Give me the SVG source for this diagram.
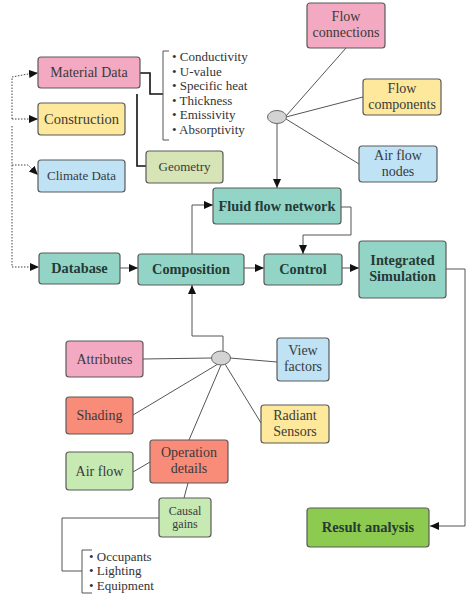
<svg xmlns="http://www.w3.org/2000/svg" width="474" height="594" viewBox="0 0 474 594">
<defs>
<marker id="ah" markerUnits="userSpaceOnUse" markerWidth="10" markerHeight="9" refX="9" refY="4" orient="auto">
<path d="M0,0 L9,4 L0,8 z" fill="#111"/>
</marker>
<style>
.n{stroke:#5a5a5a;stroke-width:1.2}
.t{font-family:"Liberation Serif","Times New Roman",serif;font-size:14px;fill:#3a3a3a;text-anchor:middle}
.b{font-family:"Liberation Serif","Times New Roman",serif;font-size:14.3px;font-weight:bold;fill:#263a36;text-anchor:middle}
.l{font-family:"Liberation Serif","Times New Roman",serif;font-size:13px;fill:#333}
.c{fill:none;stroke:#555;stroke-width:1}
.d{fill:none;stroke:#444;stroke-width:1;stroke-dasharray:1.5,1.5}
.k{fill:none;stroke:#111;stroke-width:1.6}
.pink{fill:#f3a9c1}.yel{fill:#fde89c}.blue{fill:#bfe2f5}.geo{fill:#d6e4b6}.teal{fill:#92d5c6}.sal{fill:#f98b79}.lg{fill:#c7e9b2}.res{fill:#8dca50}
</style>
</defs>
<rect width="474" height="594" fill="#fff"/>
<g id="connectors">
<path class="d" d="M12,119 V77 L28,74 L38,73" marker-end="url(#ah)"/>
<path class="d" d="M12,119 H38" marker-end="url(#ah)"/>
<path class="d" d="M12,126 V267 H39" marker-end="url(#ah)"/>
<path class="d" d="M12,165 H28 L38,175" marker-end="url(#ah)"/>
<path class="k" d="M140,73 H150 V94 H163 M137,94 V166 H146"/>
<path class="c" d="M169,51 H163 V140 H169"/>
<path class="c" d="M286,116 L346,48 M286,117 L363,97 M286,119 L359,164"/>
<path class="c" d="M277,123 V188" marker-end="url(#ah)"/>
<path class="c" d="M120,268 H138" marker-end="url(#ah)"/>
<path class="c" d="M244,268 H264" marker-end="url(#ah)"/>
<path class="c" d="M342,268 H359" marker-end="url(#ah)"/>
<path class="c" d="M192,254 V205 H213" marker-end="url(#ah)"/>
<path class="c" d="M341,207 H351 V235 H303 V254" marker-end="url(#ah)"/>
<path class="c" d="M446,269 H465 V526 H430" marker-end="url(#ah)"/>
<path class="c" d="M223,351 V336 H192 V285" marker-end="url(#ah)"/>
<path class="c" d="M212,358 L143,359 M230,358 L277,362 M218,364 L133,415 M225,364 L261,423 M221,365 L189,440"/>
<path class="c" d="M133,472 L150,462 M188,483 L184,498"/>
<path class="c" d="M159,518 H62 V571 H82"/>
<path class="c" d="M92,550 H82 V593 H92"/>
</g>
<g id="material-data"><rect class="n pink" x="38" y="57" width="102" height="31" rx="3"/><text class="t" x="89" y="77">Material Data</text></g>
<g id="construction"><rect class="n yel" x="38" y="103" width="87" height="32" rx="3"/><text class="t" x="81.5" y="124" style="font-size:14.5px">Construction</text></g>
<g id="climate-data"><rect class="n blue" x="38" y="160" width="87" height="32" rx="3"/><text class="t" x="81.5" y="180" style="font-size:13px">Climate Data</text></g>
<g id="geometry"><rect class="n geo" x="146" y="151" width="77" height="32" rx="3"/><text class="t" x="184.5" y="171" style="font-size:13px">Geometry</text></g>
<g id="material-props">
<text class="l" x="172" y="61">• Conductivity</text>
<text class="l" x="172" y="76">• U-value</text>
<text class="l" x="172" y="90">• Specific heat</text>
<text class="l" x="172" y="105">• Thickness</text>
<text class="l" x="172" y="119">• Emissivity</text>
<text class="l" x="172" y="134">• Absorptivity</text>
</g>
<g id="flow-connections"><rect class="n pink" x="307" y="3" width="78" height="45" rx="3"/><text class="t" x="346" y="21">Flow</text><text class="t" x="346" y="37">connections</text></g>
<g id="flow-components"><rect class="n yel" x="363" y="79" width="78" height="36" rx="3"/><text class="t" x="402" y="93">Flow</text><text class="t" x="402" y="109">components</text></g>
<g id="air-flow-nodes"><rect class="n blue" x="359" y="146" width="78" height="36" rx="3"/><text class="t" x="398" y="160">Air flow</text><text class="t" x="398" y="176">nodes</text></g>
<g id="flow-hub"><ellipse cx="277" cy="117" rx="9.5" ry="6.5" fill="#d3d3d3" stroke="#666" stroke-width="1"/></g>
<g id="fluid-flow-network"><rect class="n teal" x="213" y="188" width="128" height="36" rx="3"/><text class="b" x="277" y="211">Fluid flow network</text></g>
<g id="database"><rect class="n teal" x="39" y="253" width="81" height="31" rx="3"/><text class="b" x="79.5" y="273">Database</text></g>
<g id="composition"><rect class="n teal" x="138" y="254" width="106" height="31" rx="3"/><text class="b" x="191" y="274">Composition</text></g>
<g id="control"><rect class="n teal" x="264" y="254" width="78" height="31" rx="3"/><text class="b" x="303" y="274">Control</text></g>
<g id="integrated-simulation"><rect class="n teal" x="359" y="241" width="87" height="57" rx="3"/><text class="b" x="402.5" y="265">Integrated</text><text class="b" x="402.5" y="281">Simulation</text></g>
<g id="result-analysis"><rect class="n res" x="307" y="508" width="122" height="39" rx="3"/><text class="b" x="368" y="532" style="font-size:14.5px">Result analysis</text></g>
<g id="building-hub"><ellipse cx="221" cy="358" rx="9.5" ry="7" fill="#d3d3d3" stroke="#666" stroke-width="1"/></g>
<g id="attributes"><rect class="n pink" x="66" y="341" width="77" height="36" rx="3"/><text class="t" x="104.5" y="364">Attributes</text></g>
<g id="view-factors"><rect class="n blue" x="277" y="338" width="52" height="43" rx="3"/><text class="t" x="303" y="355">View</text><text class="t" x="303" y="371">factors</text></g>
<g id="shading"><rect class="n sal" x="66" y="397" width="67" height="37" rx="3"/><text class="t" x="99.5" y="420">Shading</text></g>
<g id="radiant-sensors"><rect class="n yel" x="261" y="405" width="68" height="38" rx="3"/><text class="t" x="295" y="420">Radiant</text><text class="t" x="295" y="436">Sensors</text></g>
<g id="operation-details"><rect class="n sal" x="150" y="440" width="78" height="43" rx="3"/><text class="t" x="189" y="457">Operation</text><text class="t" x="189" y="473">details</text></g>
<g id="air-flow"><rect class="n lg" x="66" y="452" width="67" height="38" rx="3"/><text class="t" x="99.5" y="476">Air flow</text></g>
<g id="causal-gains"><rect class="n lg" x="159" y="498" width="52" height="39" rx="3"/><text class="t" x="185" y="515" style="font-size:12px">Causal</text><text class="t" x="185" y="528" style="font-size:12px">gains</text></g>
<g id="gain-items">
<text class="l" x="89" y="561">• Occupants</text>
<text class="l" x="89" y="575">• Lighting</text>
<text class="l" x="89" y="590">• Equipment</text>
</g>
</svg>
